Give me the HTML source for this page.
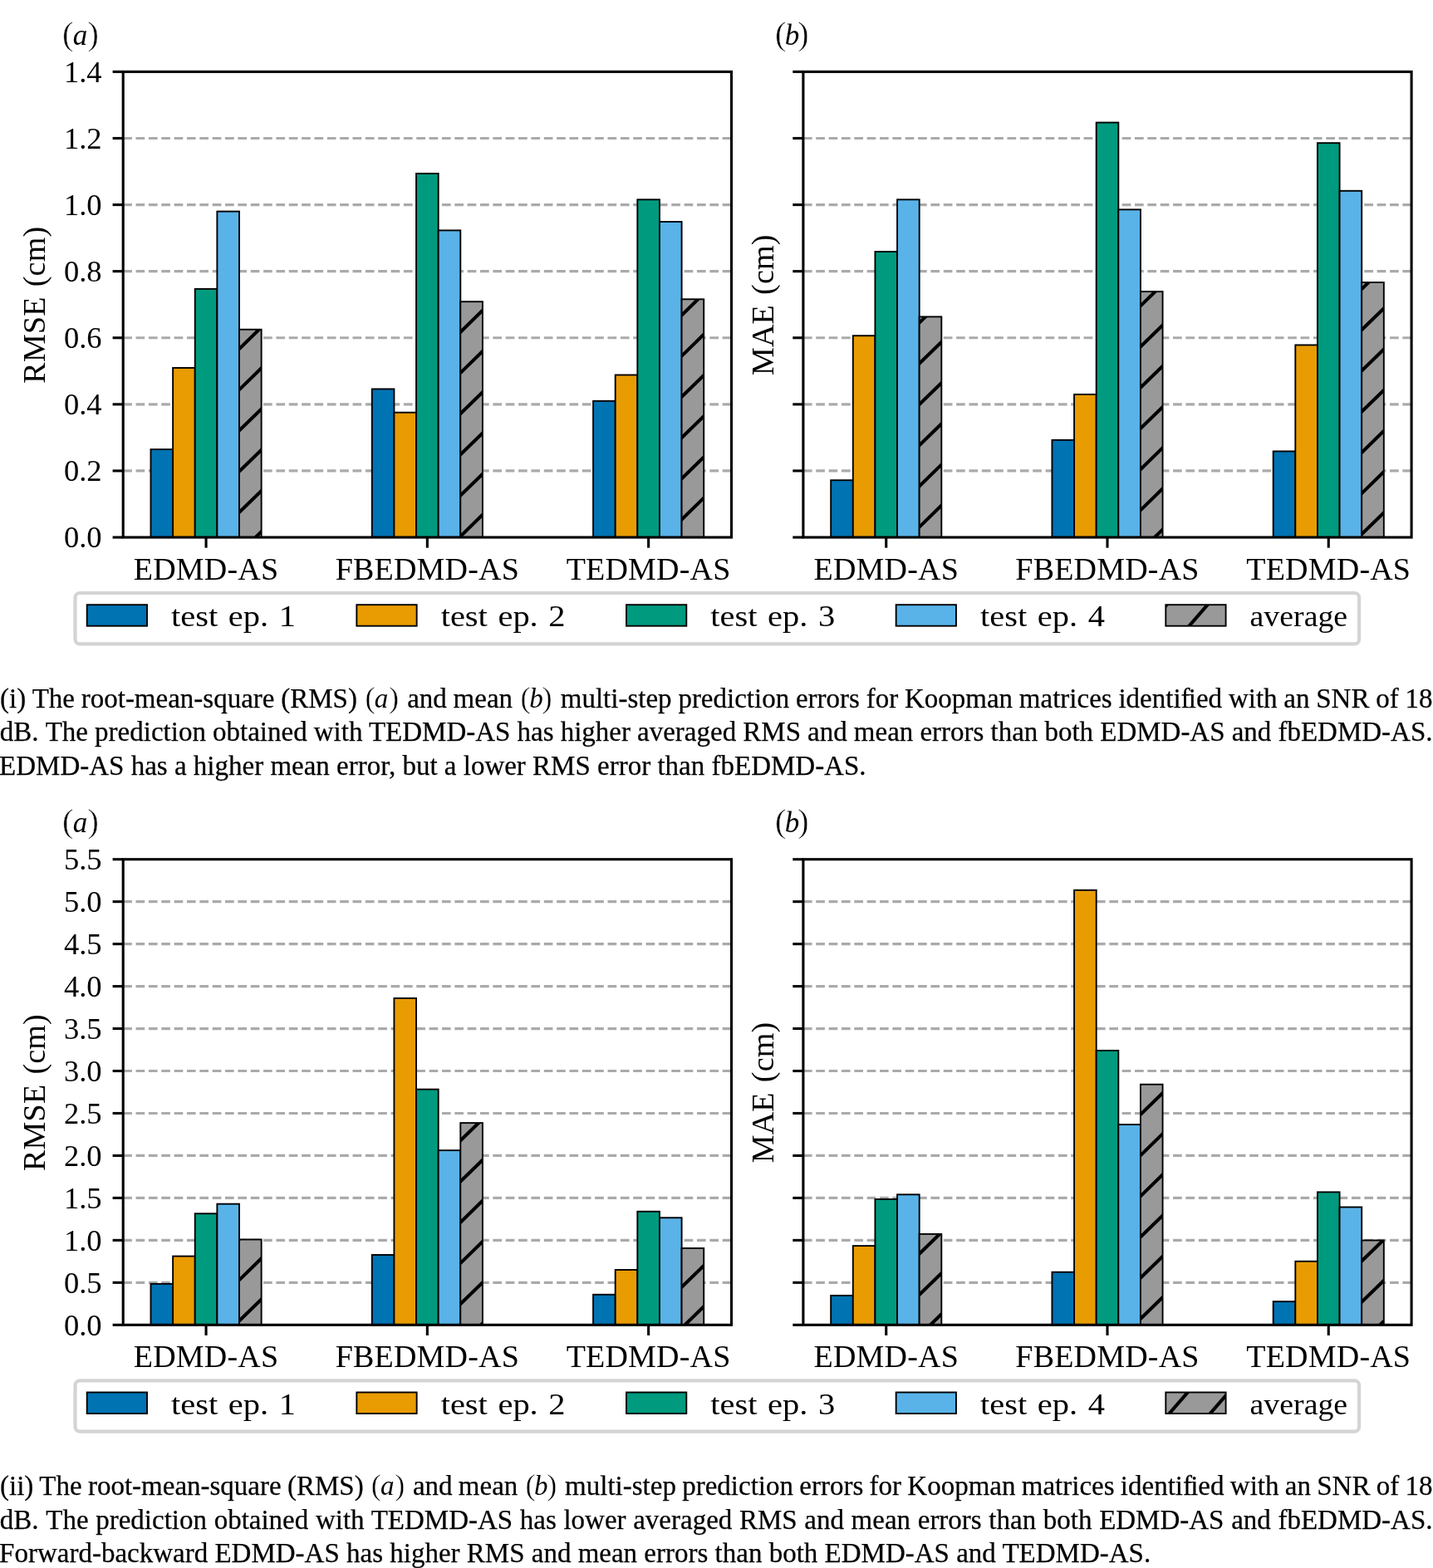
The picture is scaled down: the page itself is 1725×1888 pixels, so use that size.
<!DOCTYPE html>
<html lang="en">
<head>
<meta charset="utf-8">
<title>Multi-step prediction errors</title>
<style>
html, body { margin: 0; padding: 0; background: #ffffff; }
html, body { width: 1725px; height: 1888px; overflow: hidden; }
body { font-family: "Liberation Serif", "DejaVu Serif", serif; color: #000; }
#page { position: relative; width: 1725px; height: 1888px; overflow: hidden; background: #ffffff; }
svg { position: absolute; left: 0; top: 0; display: block; }
svg text { white-space: pre; }
p.cap { margin: 0; }
.ln { display: block; position: absolute; left: 0; height: 40px; line-height: 40px; -webkit-text-stroke: 0.25px #000; font-size: 33.0px; white-space: nowrap; margin: 0; }
.m { white-space: nowrap; word-spacing: 0; }
.lb { margin-right: 0.3px; }
.ss { margin-right: 0.6px; }
.fl { margin-right: -1.8px; }
.m .p { font-size: 36.3px; line-height: 0; -webkit-text-stroke: 0.45px #fff; }
.m i { font-size: 33px; line-height: 0; display: inline-block; -webkit-text-stroke: 0; }
</style>
</head>
<body>
<div id="page">
<svg width="1725" height="1888" viewBox="0 0 1725 1888" font-family='"Liberation Serif", "DejaVu Serif", serif' fill="#000">
<g>
<line x1="148.2" x2="880.5" y1="566.91" y2="566.91" stroke="#aaaaaa" stroke-width="3.2" stroke-dasharray="10.7 4.65"/>
<line x1="148.2" x2="880.5" y1="486.83" y2="486.83" stroke="#aaaaaa" stroke-width="3.2" stroke-dasharray="10.7 4.65"/>
<line x1="148.2" x2="880.5" y1="406.74" y2="406.74" stroke="#aaaaaa" stroke-width="3.2" stroke-dasharray="10.7 4.65"/>
<line x1="148.2" x2="880.5" y1="326.66" y2="326.66" stroke="#aaaaaa" stroke-width="3.2" stroke-dasharray="10.7 4.65"/>
<line x1="148.2" x2="880.5" y1="246.57" y2="246.57" stroke="#aaaaaa" stroke-width="3.2" stroke-dasharray="10.7 4.65"/>
<line x1="148.2" x2="880.5" y1="166.49" y2="166.49" stroke="#aaaaaa" stroke-width="3.2" stroke-dasharray="10.7 4.65"/>
<rect x="181.49" y="541.09" width="26.63" height="105.91" fill="#0073b3"/>
<rect x="181.49" y="541.09" width="26.63" height="105.91" fill="none" stroke="#000" stroke-width="1.9"/>
<rect x="208.12" y="442.94" width="26.63" height="204.06" fill="#e89c02"/>
<rect x="208.12" y="442.94" width="26.63" height="204.06" fill="none" stroke="#000" stroke-width="1.9"/>
<rect x="234.74" y="347.88" width="26.63" height="299.12" fill="#009a7f"/>
<rect x="234.74" y="347.88" width="26.63" height="299.12" fill="none" stroke="#000" stroke-width="1.9"/>
<rect x="261.37" y="254.58" width="26.63" height="392.42" fill="#59b3e8"/>
<rect x="261.37" y="254.58" width="26.63" height="392.42" fill="none" stroke="#000" stroke-width="1.9"/>
<rect x="288" y="396.73" width="26.63" height="250.27" fill="#999999"/>
<clipPath id="c288_397"><rect x="288" y="396.73" width="26.63" height="250.27"/></clipPath><path d="M280 427.86L322.63 386.3M280 477.06L322.63 435.5M280 526.26L322.63 484.7M280 575.46L322.63 533.9M280 624.66L322.63 583.1M280 673.86L322.63 632.3" stroke="#000" stroke-width="4.1" fill="none" clip-path="url(#c288_397)"/>
<rect x="288" y="396.73" width="26.63" height="250.27" fill="none" stroke="#000" stroke-width="1.9"/>
<rect x="447.78" y="468.41" width="26.63" height="178.59" fill="#0073b3"/>
<rect x="447.78" y="468.41" width="26.63" height="178.59" fill="none" stroke="#000" stroke-width="1.9"/>
<rect x="474.41" y="496.68" width="26.63" height="150.32" fill="#e89c02"/>
<rect x="474.41" y="496.68" width="26.63" height="150.32" fill="none" stroke="#000" stroke-width="1.9"/>
<rect x="501.04" y="208.93" width="26.63" height="438.07" fill="#009a7f"/>
<rect x="501.04" y="208.93" width="26.63" height="438.07" fill="none" stroke="#000" stroke-width="1.9"/>
<rect x="527.66" y="277.4" width="26.63" height="369.6" fill="#59b3e8"/>
<rect x="527.66" y="277.4" width="26.63" height="369.6" fill="none" stroke="#000" stroke-width="1.9"/>
<rect x="554.29" y="363.22" width="26.63" height="283.78" fill="#999999"/>
<clipPath id="c554_363"><rect x="554.29" y="363.22" width="26.63" height="283.78"/></clipPath><path d="M546.29 407.57L588.92 366.01M546.29 456.77L588.92 415.21M546.29 505.97L588.92 464.41M546.29 555.17L588.92 513.61M546.29 604.37L588.92 562.81M546.29 653.57L588.92 612.01" stroke="#000" stroke-width="4.1" fill="none" clip-path="url(#c554_363)"/>
<rect x="554.29" y="363.22" width="26.63" height="283.78" fill="none" stroke="#000" stroke-width="1.9"/>
<rect x="714.07" y="482.82" width="26.63" height="164.18" fill="#0073b3"/>
<rect x="714.07" y="482.82" width="26.63" height="164.18" fill="none" stroke="#000" stroke-width="1.9"/>
<rect x="740.7" y="451.47" width="26.63" height="195.53" fill="#e89c02"/>
<rect x="740.7" y="451.47" width="26.63" height="195.53" fill="none" stroke="#000" stroke-width="1.9"/>
<rect x="767.33" y="240.32" width="26.63" height="406.68" fill="#009a7f"/>
<rect x="767.33" y="240.32" width="26.63" height="406.68" fill="none" stroke="#000" stroke-width="1.9"/>
<rect x="793.96" y="266.99" width="26.63" height="380.01" fill="#59b3e8"/>
<rect x="793.96" y="266.99" width="26.63" height="380.01" fill="none" stroke="#000" stroke-width="1.9"/>
<rect x="820.58" y="360.29" width="26.63" height="286.71" fill="#999999"/>
<clipPath id="c821_360"><rect x="820.58" y="360.29" width="26.63" height="286.71"/></clipPath><path d="M812.58 387.28L855.21 345.72M812.58 436.48L855.21 394.92M812.58 485.68L855.21 444.12M812.58 534.88L855.21 493.32M812.58 584.08L855.21 542.52M812.58 633.28L855.21 591.72M812.58 682.48L855.21 640.92" stroke="#000" stroke-width="4.1" fill="none" clip-path="url(#c821_360)"/>
<rect x="820.58" y="360.29" width="26.63" height="286.71" fill="none" stroke="#000" stroke-width="1.9"/>
<line x1="135.6" x2="148.2" y1="647" y2="647" stroke="#000" stroke-width="3.1"/>
<text x="122.6" y="659.4" text-anchor="end" font-size="36.5">0.0</text>
<line x1="135.6" x2="148.2" y1="566.91" y2="566.91" stroke="#000" stroke-width="3.1"/>
<text x="122.6" y="579.31" text-anchor="end" font-size="36.5">0.2</text>
<line x1="135.6" x2="148.2" y1="486.83" y2="486.83" stroke="#000" stroke-width="3.1"/>
<text x="122.6" y="499.23" text-anchor="end" font-size="36.5">0.4</text>
<line x1="135.6" x2="148.2" y1="406.74" y2="406.74" stroke="#000" stroke-width="3.1"/>
<text x="122.6" y="419.14" text-anchor="end" font-size="36.5">0.6</text>
<line x1="135.6" x2="148.2" y1="326.66" y2="326.66" stroke="#000" stroke-width="3.1"/>
<text x="122.6" y="339.06" text-anchor="end" font-size="36.5">0.8</text>
<line x1="135.6" x2="148.2" y1="246.57" y2="246.57" stroke="#000" stroke-width="3.1"/>
<text x="122.6" y="258.97" text-anchor="end" font-size="36.5">1.0</text>
<line x1="135.6" x2="148.2" y1="166.49" y2="166.49" stroke="#000" stroke-width="3.1"/>
<text x="122.6" y="178.89" text-anchor="end" font-size="36.5">1.2</text>
<line x1="135.6" x2="148.2" y1="86.4" y2="86.4" stroke="#000" stroke-width="3.1"/>
<text x="122.6" y="98.8" text-anchor="end" font-size="36.5">1.4</text>
<line x1="248.06" x2="248.06" y1="647" y2="659.6" stroke="#000" stroke-width="3.1"/>
<text x="248.06" y="697.8" text-anchor="middle" font-size="38.0" letter-spacing="0.2">EDMD-AS</text>
<line x1="514.35" x2="514.35" y1="647" y2="659.6" stroke="#000" stroke-width="3.1"/>
<text x="514.35" y="697.8" text-anchor="middle" font-size="38.0" letter-spacing="0.2">FBEDMD-AS</text>
<line x1="780.64" x2="780.64" y1="647" y2="659.6" stroke="#000" stroke-width="3.1"/>
<text x="780.64" y="697.8" text-anchor="middle" font-size="38.0" letter-spacing="0.2">TEDMD-AS</text>
<rect x="148.2" y="86.4" width="732.3" height="560.6" fill="none" stroke="#000" stroke-width="3.1" stroke-linejoin="miter"/>
<text transform="translate(53.8 367.2) rotate(-90)" text-anchor="middle" font-size="38.0" letter-spacing="0.2" word-spacing="2.4">RMSE (cm)</text>
<text x="75" y="53.6" font-size="40.1" stroke="#fff" stroke-width="0.5">(<tspan font-style="italic" font-size="35.0" stroke="none" dx="-0.5">a</tspan><tspan dx="0.2">)</tspan></text>
<line x1="966.9" x2="1699.1" y1="566.91" y2="566.91" stroke="#aaaaaa" stroke-width="3.2" stroke-dasharray="10.7 4.65"/>
<line x1="966.9" x2="1699.1" y1="486.83" y2="486.83" stroke="#aaaaaa" stroke-width="3.2" stroke-dasharray="10.7 4.65"/>
<line x1="966.9" x2="1699.1" y1="406.74" y2="406.74" stroke="#aaaaaa" stroke-width="3.2" stroke-dasharray="10.7 4.65"/>
<line x1="966.9" x2="1699.1" y1="326.66" y2="326.66" stroke="#aaaaaa" stroke-width="3.2" stroke-dasharray="10.7 4.65"/>
<line x1="966.9" x2="1699.1" y1="246.57" y2="246.57" stroke="#aaaaaa" stroke-width="3.2" stroke-dasharray="10.7 4.65"/>
<line x1="966.9" x2="1699.1" y1="166.49" y2="166.49" stroke="#aaaaaa" stroke-width="3.2" stroke-dasharray="10.7 4.65"/>
<rect x="1000.18" y="578.21" width="26.63" height="68.79" fill="#0073b3"/>
<rect x="1000.18" y="578.21" width="26.63" height="68.79" fill="none" stroke="#000" stroke-width="1.9"/>
<rect x="1026.81" y="404.22" width="26.63" height="242.78" fill="#e89c02"/>
<rect x="1026.81" y="404.22" width="26.63" height="242.78" fill="none" stroke="#000" stroke-width="1.9"/>
<rect x="1053.43" y="303.03" width="26.63" height="343.97" fill="#009a7f"/>
<rect x="1053.43" y="303.03" width="26.63" height="343.97" fill="none" stroke="#000" stroke-width="1.9"/>
<rect x="1080.06" y="240.32" width="26.63" height="406.68" fill="#59b3e8"/>
<rect x="1080.06" y="240.32" width="26.63" height="406.68" fill="none" stroke="#000" stroke-width="1.9"/>
<rect x="1106.68" y="381.4" width="26.63" height="265.6" fill="#999999"/>
<clipPath id="c1107_381"><rect x="1106.68" y="381.4" width="26.63" height="265.6"/></clipPath><path d="M1098.68 396.38L1141.31 354.82M1098.68 445.58L1141.31 404.02M1098.68 494.78L1141.31 453.22M1098.68 543.98L1141.31 502.42M1098.68 593.18L1141.31 551.62M1098.68 642.38L1141.31 600.82" stroke="#000" stroke-width="4.1" fill="none" clip-path="url(#c1107_381)"/>
<rect x="1106.68" y="381.4" width="26.63" height="265.6" fill="none" stroke="#000" stroke-width="1.9"/>
<rect x="1266.44" y="529.79" width="26.63" height="117.21" fill="#0073b3"/>
<rect x="1266.44" y="529.79" width="26.63" height="117.21" fill="none" stroke="#000" stroke-width="1.9"/>
<rect x="1293.06" y="474.9" width="26.63" height="172.1" fill="#e89c02"/>
<rect x="1293.06" y="474.9" width="26.63" height="172.1" fill="none" stroke="#000" stroke-width="1.9"/>
<rect x="1319.69" y="147.55" width="26.63" height="499.45" fill="#009a7f"/>
<rect x="1319.69" y="147.55" width="26.63" height="499.45" fill="none" stroke="#000" stroke-width="1.9"/>
<rect x="1346.31" y="252.34" width="26.63" height="394.66" fill="#59b3e8"/>
<rect x="1346.31" y="252.34" width="26.63" height="394.66" fill="none" stroke="#000" stroke-width="1.9"/>
<rect x="1372.94" y="351.08" width="26.63" height="295.92" fill="#999999"/>
<clipPath id="c1373_351"><rect x="1372.94" y="351.08" width="26.63" height="295.92"/></clipPath><path d="M1364.94 376.13L1407.56 334.57M1364.94 425.33L1407.56 383.77M1364.94 474.53L1407.56 432.97M1364.94 523.73L1407.56 482.17M1364.94 572.93L1407.56 531.37M1364.94 622.13L1407.56 580.57M1364.94 671.33L1407.56 629.77" stroke="#000" stroke-width="4.1" fill="none" clip-path="url(#c1373_351)"/>
<rect x="1372.94" y="351.08" width="26.63" height="295.92" fill="none" stroke="#000" stroke-width="1.9"/>
<rect x="1532.69" y="543.41" width="26.63" height="103.59" fill="#0073b3"/>
<rect x="1532.69" y="543.41" width="26.63" height="103.59" fill="none" stroke="#000" stroke-width="1.9"/>
<rect x="1559.32" y="415.43" width="26.63" height="231.57" fill="#e89c02"/>
<rect x="1559.32" y="415.43" width="26.63" height="231.57" fill="none" stroke="#000" stroke-width="1.9"/>
<rect x="1585.94" y="172.17" width="26.63" height="474.83" fill="#009a7f"/>
<rect x="1585.94" y="172.17" width="26.63" height="474.83" fill="none" stroke="#000" stroke-width="1.9"/>
<rect x="1612.57" y="229.79" width="26.63" height="417.21" fill="#59b3e8"/>
<rect x="1612.57" y="229.79" width="26.63" height="417.21" fill="none" stroke="#000" stroke-width="1.9"/>
<rect x="1639.19" y="340.03" width="26.63" height="306.97" fill="#999999"/>
<clipPath id="c1639_340"><rect x="1639.19" y="340.03" width="26.63" height="306.97"/></clipPath><path d="M1631.19 355.87L1673.82 314.31M1631.19 405.07L1673.82 363.51M1631.19 454.27L1673.82 412.71M1631.19 503.47L1673.82 461.91M1631.19 552.67L1673.82 511.11M1631.19 601.87L1673.82 560.31M1631.19 651.07L1673.82 609.51" stroke="#000" stroke-width="4.1" fill="none" clip-path="url(#c1639_340)"/>
<rect x="1639.19" y="340.03" width="26.63" height="306.97" fill="none" stroke="#000" stroke-width="1.9"/>
<line x1="954.3" x2="966.9" y1="647" y2="647" stroke="#000" stroke-width="3.1"/>
<line x1="954.3" x2="966.9" y1="566.91" y2="566.91" stroke="#000" stroke-width="3.1"/>
<line x1="954.3" x2="966.9" y1="486.83" y2="486.83" stroke="#000" stroke-width="3.1"/>
<line x1="954.3" x2="966.9" y1="406.74" y2="406.74" stroke="#000" stroke-width="3.1"/>
<line x1="954.3" x2="966.9" y1="326.66" y2="326.66" stroke="#000" stroke-width="3.1"/>
<line x1="954.3" x2="966.9" y1="246.57" y2="246.57" stroke="#000" stroke-width="3.1"/>
<line x1="954.3" x2="966.9" y1="166.49" y2="166.49" stroke="#000" stroke-width="3.1"/>
<line x1="954.3" x2="966.9" y1="86.4" y2="86.4" stroke="#000" stroke-width="3.1"/>
<line x1="1066.75" x2="1066.75" y1="647" y2="659.6" stroke="#000" stroke-width="3.1"/>
<text x="1066.75" y="697.8" text-anchor="middle" font-size="38.0" letter-spacing="0.2">EDMD-AS</text>
<line x1="1333" x2="1333" y1="647" y2="659.6" stroke="#000" stroke-width="3.1"/>
<text x="1333" y="697.8" text-anchor="middle" font-size="38.0" letter-spacing="0.2">FBEDMD-AS</text>
<line x1="1599.25" x2="1599.25" y1="647" y2="659.6" stroke="#000" stroke-width="3.1"/>
<text x="1599.25" y="697.8" text-anchor="middle" font-size="38.0" letter-spacing="0.2">TEDMD-AS</text>
<rect x="966.9" y="86.4" width="732.2" height="560.6" fill="none" stroke="#000" stroke-width="3.1" stroke-linejoin="miter"/>
<text transform="translate(931.1 367.2) rotate(-90)" text-anchor="middle" font-size="38.0" letter-spacing="0.2" word-spacing="2.4">MAE (cm)</text>
<text x="933" y="53.6" font-size="40.1" stroke="#fff" stroke-width="0.5">(<tspan font-style="italic" font-size="35.0" stroke="none" dx="-1.5">b</tspan><tspan dx="-2.0">)</tspan></text>
<rect x="90.5" y="714" width="1545.6" height="61.3" rx="5.6" ry="5.6" fill="#fff" stroke="#d4d4d4" stroke-width="4.2"/>
<rect x="104.7" y="728.2" width="72.3" height="25.5" fill="#0073b3"/>
<rect x="104.7" y="728.2" width="72.3" height="25.5" fill="none" stroke="#000" stroke-width="1.9"/>
<text transform="translate(206 754.3) scale(1.14 1)" font-size="35.5" word-spacing="2.2">test ep. 1</text>
<rect x="429.35" y="728.2" width="72.3" height="25.5" fill="#e89c02"/>
<rect x="429.35" y="728.2" width="72.3" height="25.5" fill="none" stroke="#000" stroke-width="1.9"/>
<text transform="translate(530.65 754.3) scale(1.14 1)" font-size="35.5" word-spacing="2.2">test ep. 2</text>
<rect x="754" y="728.2" width="72.3" height="25.5" fill="#009a7f"/>
<rect x="754" y="728.2" width="72.3" height="25.5" fill="none" stroke="#000" stroke-width="1.9"/>
<text transform="translate(855.3 754.3) scale(1.14 1)" font-size="35.5" word-spacing="2.2">test ep. 3</text>
<rect x="1078.65" y="728.2" width="72.3" height="25.5" fill="#59b3e8"/>
<rect x="1078.65" y="728.2" width="72.3" height="25.5" fill="none" stroke="#000" stroke-width="1.9"/>
<text transform="translate(1179.95 754.3) scale(1.14 1)" font-size="35.5" word-spacing="2.2">test ep. 4</text>
<rect x="1403.3" y="728.2" width="72.3" height="25.5" fill="#999999"/>
<clipPath id="c1403_728"><rect x="1403.3" y="728.2" width="72.3" height="25.5"/></clipPath><path d="M1395.3 738.71L1483.6 637.16M1395.3 795.29L1483.6 693.74M1395.3 851.87L1483.6 750.32" stroke="#000" stroke-width="4.1" fill="none" clip-path="url(#c1403_728)"/>
<rect x="1403.3" y="728.2" width="72.3" height="25.5" fill="none" stroke="#000" stroke-width="1.9"/>
<text transform="translate(1504.6 754.3) scale(1.065 1)" font-size="35.5" word-spacing="0">average</text>
</g>
<g>
<line x1="148.2" x2="880.5" y1="1544.34" y2="1544.34" stroke="#aaaaaa" stroke-width="3.2" stroke-dasharray="10.7 4.65"/>
<line x1="148.2" x2="880.5" y1="1493.37" y2="1493.37" stroke="#aaaaaa" stroke-width="3.2" stroke-dasharray="10.7 4.65"/>
<line x1="148.2" x2="880.5" y1="1442.41" y2="1442.41" stroke="#aaaaaa" stroke-width="3.2" stroke-dasharray="10.7 4.65"/>
<line x1="148.2" x2="880.5" y1="1391.45" y2="1391.45" stroke="#aaaaaa" stroke-width="3.2" stroke-dasharray="10.7 4.65"/>
<line x1="148.2" x2="880.5" y1="1340.48" y2="1340.48" stroke="#aaaaaa" stroke-width="3.2" stroke-dasharray="10.7 4.65"/>
<line x1="148.2" x2="880.5" y1="1289.52" y2="1289.52" stroke="#aaaaaa" stroke-width="3.2" stroke-dasharray="10.7 4.65"/>
<line x1="148.2" x2="880.5" y1="1238.55" y2="1238.55" stroke="#aaaaaa" stroke-width="3.2" stroke-dasharray="10.7 4.65"/>
<line x1="148.2" x2="880.5" y1="1187.59" y2="1187.59" stroke="#aaaaaa" stroke-width="3.2" stroke-dasharray="10.7 4.65"/>
<line x1="148.2" x2="880.5" y1="1136.63" y2="1136.63" stroke="#aaaaaa" stroke-width="3.2" stroke-dasharray="10.7 4.65"/>
<line x1="148.2" x2="880.5" y1="1085.66" y2="1085.66" stroke="#aaaaaa" stroke-width="3.2" stroke-dasharray="10.7 4.65"/>
<rect x="181.49" y="1545.87" width="26.63" height="49.43" fill="#0073b3"/>
<rect x="181.49" y="1545.87" width="26.63" height="49.43" fill="none" stroke="#000" stroke-width="1.9"/>
<rect x="208.12" y="1512.57" width="26.63" height="82.73" fill="#e89c02"/>
<rect x="208.12" y="1512.57" width="26.63" height="82.73" fill="none" stroke="#000" stroke-width="1.9"/>
<rect x="234.74" y="1461.27" width="26.63" height="134.03" fill="#009a7f"/>
<rect x="234.74" y="1461.27" width="26.63" height="134.03" fill="none" stroke="#000" stroke-width="1.9"/>
<rect x="261.37" y="1449.65" width="26.63" height="145.65" fill="#59b3e8"/>
<rect x="261.37" y="1449.65" width="26.63" height="145.65" fill="none" stroke="#000" stroke-width="1.9"/>
<rect x="288" y="1492.46" width="26.63" height="102.84" fill="#999999"/>
<clipPath id="c288_1492"><rect x="288" y="1492.46" width="26.63" height="102.84"/></clipPath><path d="M280 1499.86L322.63 1458.3M280 1549.06L322.63 1507.5M280 1598.26L322.63 1556.7" stroke="#000" stroke-width="4.1" fill="none" clip-path="url(#c288_1492)"/>
<rect x="288" y="1492.46" width="26.63" height="102.84" fill="none" stroke="#000" stroke-width="1.9"/>
<rect x="447.78" y="1510.98" width="26.63" height="84.32" fill="#0073b3"/>
<rect x="447.78" y="1510.98" width="26.63" height="84.32" fill="none" stroke="#000" stroke-width="1.9"/>
<rect x="474.41" y="1201.96" width="26.63" height="393.34" fill="#e89c02"/>
<rect x="474.41" y="1201.96" width="26.63" height="393.34" fill="none" stroke="#000" stroke-width="1.9"/>
<rect x="501.04" y="1311.64" width="26.63" height="283.66" fill="#009a7f"/>
<rect x="501.04" y="1311.64" width="26.63" height="283.66" fill="none" stroke="#000" stroke-width="1.9"/>
<rect x="527.66" y="1385.13" width="26.63" height="210.17" fill="#59b3e8"/>
<rect x="527.66" y="1385.13" width="26.63" height="210.17" fill="none" stroke="#000" stroke-width="1.9"/>
<rect x="554.29" y="1352.1" width="26.63" height="243.2" fill="#999999"/>
<clipPath id="c554_1352"><rect x="554.29" y="1352.1" width="26.63" height="243.2"/></clipPath><path d="M546.29 1381.17L588.92 1339.61M546.29 1430.37L588.92 1388.81M546.29 1479.57L588.92 1438.01M546.29 1528.77L588.92 1487.21M546.29 1577.97L588.92 1536.41M546.29 1627.17L588.92 1585.61" stroke="#000" stroke-width="4.1" fill="none" clip-path="url(#c554_1352)"/>
<rect x="554.29" y="1352.1" width="26.63" height="243.2" fill="none" stroke="#000" stroke-width="1.9"/>
<rect x="714.07" y="1558.79" width="26.63" height="36.51" fill="#0073b3"/>
<rect x="714.07" y="1558.79" width="26.63" height="36.51" fill="none" stroke="#000" stroke-width="1.9"/>
<rect x="740.7" y="1528.99" width="26.63" height="66.31" fill="#e89c02"/>
<rect x="740.7" y="1528.99" width="26.63" height="66.31" fill="none" stroke="#000" stroke-width="1.9"/>
<rect x="767.33" y="1458.76" width="26.63" height="136.54" fill="#009a7f"/>
<rect x="767.33" y="1458.76" width="26.63" height="136.54" fill="none" stroke="#000" stroke-width="1.9"/>
<rect x="793.96" y="1466.26" width="26.63" height="129.04" fill="#59b3e8"/>
<rect x="793.96" y="1466.26" width="26.63" height="129.04" fill="none" stroke="#000" stroke-width="1.9"/>
<rect x="820.58" y="1502.97" width="26.63" height="92.33" fill="#999999"/>
<clipPath id="c821_1503"><rect x="820.58" y="1502.97" width="26.63" height="92.33"/></clipPath><path d="M812.58 1508.48L855.21 1466.92M812.58 1557.68L855.21 1516.12M812.58 1606.88L855.21 1565.32" stroke="#000" stroke-width="4.1" fill="none" clip-path="url(#c821_1503)"/>
<rect x="820.58" y="1502.97" width="26.63" height="92.33" fill="none" stroke="#000" stroke-width="1.9"/>
<line x1="135.6" x2="148.2" y1="1595.3" y2="1595.3" stroke="#000" stroke-width="3.1"/>
<text x="122.6" y="1607.7" text-anchor="end" font-size="36.5">0.0</text>
<line x1="135.6" x2="148.2" y1="1544.34" y2="1544.34" stroke="#000" stroke-width="3.1"/>
<text x="122.6" y="1556.74" text-anchor="end" font-size="36.5">0.5</text>
<line x1="135.6" x2="148.2" y1="1493.37" y2="1493.37" stroke="#000" stroke-width="3.1"/>
<text x="122.6" y="1505.77" text-anchor="end" font-size="36.5">1.0</text>
<line x1="135.6" x2="148.2" y1="1442.41" y2="1442.41" stroke="#000" stroke-width="3.1"/>
<text x="122.6" y="1454.81" text-anchor="end" font-size="36.5">1.5</text>
<line x1="135.6" x2="148.2" y1="1391.45" y2="1391.45" stroke="#000" stroke-width="3.1"/>
<text x="122.6" y="1403.85" text-anchor="end" font-size="36.5">2.0</text>
<line x1="135.6" x2="148.2" y1="1340.48" y2="1340.48" stroke="#000" stroke-width="3.1"/>
<text x="122.6" y="1352.88" text-anchor="end" font-size="36.5">2.5</text>
<line x1="135.6" x2="148.2" y1="1289.52" y2="1289.52" stroke="#000" stroke-width="3.1"/>
<text x="122.6" y="1301.92" text-anchor="end" font-size="36.5">3.0</text>
<line x1="135.6" x2="148.2" y1="1238.55" y2="1238.55" stroke="#000" stroke-width="3.1"/>
<text x="122.6" y="1250.95" text-anchor="end" font-size="36.5">3.5</text>
<line x1="135.6" x2="148.2" y1="1187.59" y2="1187.59" stroke="#000" stroke-width="3.1"/>
<text x="122.6" y="1199.99" text-anchor="end" font-size="36.5">4.0</text>
<line x1="135.6" x2="148.2" y1="1136.63" y2="1136.63" stroke="#000" stroke-width="3.1"/>
<text x="122.6" y="1149.03" text-anchor="end" font-size="36.5">4.5</text>
<line x1="135.6" x2="148.2" y1="1085.66" y2="1085.66" stroke="#000" stroke-width="3.1"/>
<text x="122.6" y="1098.06" text-anchor="end" font-size="36.5">5.0</text>
<line x1="135.6" x2="148.2" y1="1034.7" y2="1034.7" stroke="#000" stroke-width="3.1"/>
<text x="122.6" y="1047.1" text-anchor="end" font-size="36.5">5.5</text>
<line x1="248.06" x2="248.06" y1="1595.3" y2="1607.9" stroke="#000" stroke-width="3.1"/>
<text x="248.06" y="1646.1" text-anchor="middle" font-size="38.0" letter-spacing="0.2">EDMD-AS</text>
<line x1="514.35" x2="514.35" y1="1595.3" y2="1607.9" stroke="#000" stroke-width="3.1"/>
<text x="514.35" y="1646.1" text-anchor="middle" font-size="38.0" letter-spacing="0.2">FBEDMD-AS</text>
<line x1="780.64" x2="780.64" y1="1595.3" y2="1607.9" stroke="#000" stroke-width="3.1"/>
<text x="780.64" y="1646.1" text-anchor="middle" font-size="38.0" letter-spacing="0.2">TEDMD-AS</text>
<rect x="148.2" y="1034.7" width="732.3" height="560.6" fill="none" stroke="#000" stroke-width="3.1" stroke-linejoin="miter"/>
<text transform="translate(53.8 1315.5) rotate(-90)" text-anchor="middle" font-size="38.0" letter-spacing="0.2" word-spacing="2.4">RMSE (cm)</text>
<text x="75" y="1001.9" font-size="40.1" stroke="#fff" stroke-width="0.5">(<tspan font-style="italic" font-size="35.0" stroke="none" dx="-0.5">a</tspan><tspan dx="0.2">)</tspan></text>
<line x1="966.9" x2="1699.1" y1="1544.34" y2="1544.34" stroke="#aaaaaa" stroke-width="3.2" stroke-dasharray="10.7 4.65"/>
<line x1="966.9" x2="1699.1" y1="1493.37" y2="1493.37" stroke="#aaaaaa" stroke-width="3.2" stroke-dasharray="10.7 4.65"/>
<line x1="966.9" x2="1699.1" y1="1442.41" y2="1442.41" stroke="#aaaaaa" stroke-width="3.2" stroke-dasharray="10.7 4.65"/>
<line x1="966.9" x2="1699.1" y1="1391.45" y2="1391.45" stroke="#aaaaaa" stroke-width="3.2" stroke-dasharray="10.7 4.65"/>
<line x1="966.9" x2="1699.1" y1="1340.48" y2="1340.48" stroke="#aaaaaa" stroke-width="3.2" stroke-dasharray="10.7 4.65"/>
<line x1="966.9" x2="1699.1" y1="1289.52" y2="1289.52" stroke="#aaaaaa" stroke-width="3.2" stroke-dasharray="10.7 4.65"/>
<line x1="966.9" x2="1699.1" y1="1238.55" y2="1238.55" stroke="#aaaaaa" stroke-width="3.2" stroke-dasharray="10.7 4.65"/>
<line x1="966.9" x2="1699.1" y1="1187.59" y2="1187.59" stroke="#aaaaaa" stroke-width="3.2" stroke-dasharray="10.7 4.65"/>
<line x1="966.9" x2="1699.1" y1="1136.63" y2="1136.63" stroke="#aaaaaa" stroke-width="3.2" stroke-dasharray="10.7 4.65"/>
<line x1="966.9" x2="1699.1" y1="1085.66" y2="1085.66" stroke="#aaaaaa" stroke-width="3.2" stroke-dasharray="10.7 4.65"/>
<rect x="1000.18" y="1559.93" width="26.63" height="35.37" fill="#0073b3"/>
<rect x="1000.18" y="1559.93" width="26.63" height="35.37" fill="none" stroke="#000" stroke-width="1.9"/>
<rect x="1026.81" y="1500.1" width="26.63" height="95.2" fill="#e89c02"/>
<rect x="1026.81" y="1500.1" width="26.63" height="95.2" fill="none" stroke="#000" stroke-width="1.9"/>
<rect x="1053.43" y="1443.94" width="26.63" height="151.36" fill="#009a7f"/>
<rect x="1053.43" y="1443.94" width="26.63" height="151.36" fill="none" stroke="#000" stroke-width="1.9"/>
<rect x="1080.06" y="1438.33" width="26.63" height="156.97" fill="#59b3e8"/>
<rect x="1080.06" y="1438.33" width="26.63" height="156.97" fill="none" stroke="#000" stroke-width="1.9"/>
<rect x="1106.68" y="1485.87" width="26.63" height="109.43" fill="#999999"/>
<clipPath id="c1107_1486"><rect x="1106.68" y="1485.87" width="26.63" height="109.43"/></clipPath><path d="M1098.68 1517.58L1141.31 1476.02M1098.68 1566.78L1141.31 1525.22M1098.68 1615.98L1141.31 1574.42" stroke="#000" stroke-width="4.1" fill="none" clip-path="url(#c1107_1486)"/>
<rect x="1106.68" y="1485.87" width="26.63" height="109.43" fill="none" stroke="#000" stroke-width="1.9"/>
<rect x="1266.44" y="1531.7" width="26.63" height="63.6" fill="#0073b3"/>
<rect x="1266.44" y="1531.7" width="26.63" height="63.6" fill="none" stroke="#000" stroke-width="1.9"/>
<rect x="1293.06" y="1071.8" width="26.63" height="523.5" fill="#e89c02"/>
<rect x="1293.06" y="1071.8" width="26.63" height="523.5" fill="none" stroke="#000" stroke-width="1.9"/>
<rect x="1319.69" y="1264.95" width="26.63" height="330.35" fill="#009a7f"/>
<rect x="1319.69" y="1264.95" width="26.63" height="330.35" fill="none" stroke="#000" stroke-width="1.9"/>
<rect x="1346.31" y="1354.04" width="26.63" height="241.26" fill="#59b3e8"/>
<rect x="1346.31" y="1354.04" width="26.63" height="241.26" fill="none" stroke="#000" stroke-width="1.9"/>
<rect x="1372.94" y="1305.72" width="26.63" height="289.58" fill="#999999"/>
<clipPath id="c1373_1306"><rect x="1372.94" y="1305.72" width="26.63" height="289.58"/></clipPath><path d="M1364.94 1349.73L1407.56 1308.17M1364.94 1398.93L1407.56 1357.37M1364.94 1448.13L1407.56 1406.57M1364.94 1497.33L1407.56 1455.77M1364.94 1546.53L1407.56 1504.97M1364.94 1595.73L1407.56 1554.17" stroke="#000" stroke-width="4.1" fill="none" clip-path="url(#c1373_1306)"/>
<rect x="1372.94" y="1305.72" width="26.63" height="289.58" fill="none" stroke="#000" stroke-width="1.9"/>
<rect x="1532.69" y="1567.15" width="26.63" height="28.15" fill="#0073b3"/>
<rect x="1532.69" y="1567.15" width="26.63" height="28.15" fill="none" stroke="#000" stroke-width="1.9"/>
<rect x="1559.32" y="1518.75" width="26.63" height="76.55" fill="#e89c02"/>
<rect x="1559.32" y="1518.75" width="26.63" height="76.55" fill="none" stroke="#000" stroke-width="1.9"/>
<rect x="1585.94" y="1435.38" width="26.63" height="159.92" fill="#009a7f"/>
<rect x="1585.94" y="1435.38" width="26.63" height="159.92" fill="none" stroke="#000" stroke-width="1.9"/>
<rect x="1612.57" y="1453.47" width="26.63" height="141.83" fill="#59b3e8"/>
<rect x="1612.57" y="1453.47" width="26.63" height="141.83" fill="none" stroke="#000" stroke-width="1.9"/>
<rect x="1639.19" y="1493.47" width="26.63" height="101.83" fill="#999999"/>
<clipPath id="c1639_1493"><rect x="1639.19" y="1493.47" width="26.63" height="101.83"/></clipPath><path d="M1631.19 1526.27L1673.82 1484.71M1631.19 1575.47L1673.82 1533.91M1631.19 1624.67L1673.82 1583.11" stroke="#000" stroke-width="4.1" fill="none" clip-path="url(#c1639_1493)"/>
<rect x="1639.19" y="1493.47" width="26.63" height="101.83" fill="none" stroke="#000" stroke-width="1.9"/>
<line x1="954.3" x2="966.9" y1="1595.3" y2="1595.3" stroke="#000" stroke-width="3.1"/>
<line x1="954.3" x2="966.9" y1="1544.34" y2="1544.34" stroke="#000" stroke-width="3.1"/>
<line x1="954.3" x2="966.9" y1="1493.37" y2="1493.37" stroke="#000" stroke-width="3.1"/>
<line x1="954.3" x2="966.9" y1="1442.41" y2="1442.41" stroke="#000" stroke-width="3.1"/>
<line x1="954.3" x2="966.9" y1="1391.45" y2="1391.45" stroke="#000" stroke-width="3.1"/>
<line x1="954.3" x2="966.9" y1="1340.48" y2="1340.48" stroke="#000" stroke-width="3.1"/>
<line x1="954.3" x2="966.9" y1="1289.52" y2="1289.52" stroke="#000" stroke-width="3.1"/>
<line x1="954.3" x2="966.9" y1="1238.55" y2="1238.55" stroke="#000" stroke-width="3.1"/>
<line x1="954.3" x2="966.9" y1="1187.59" y2="1187.59" stroke="#000" stroke-width="3.1"/>
<line x1="954.3" x2="966.9" y1="1136.63" y2="1136.63" stroke="#000" stroke-width="3.1"/>
<line x1="954.3" x2="966.9" y1="1085.66" y2="1085.66" stroke="#000" stroke-width="3.1"/>
<line x1="954.3" x2="966.9" y1="1034.7" y2="1034.7" stroke="#000" stroke-width="3.1"/>
<line x1="1066.75" x2="1066.75" y1="1595.3" y2="1607.9" stroke="#000" stroke-width="3.1"/>
<text x="1066.75" y="1646.1" text-anchor="middle" font-size="38.0" letter-spacing="0.2">EDMD-AS</text>
<line x1="1333" x2="1333" y1="1595.3" y2="1607.9" stroke="#000" stroke-width="3.1"/>
<text x="1333" y="1646.1" text-anchor="middle" font-size="38.0" letter-spacing="0.2">FBEDMD-AS</text>
<line x1="1599.25" x2="1599.25" y1="1595.3" y2="1607.9" stroke="#000" stroke-width="3.1"/>
<text x="1599.25" y="1646.1" text-anchor="middle" font-size="38.0" letter-spacing="0.2">TEDMD-AS</text>
<rect x="966.9" y="1034.7" width="732.2" height="560.6" fill="none" stroke="#000" stroke-width="3.1" stroke-linejoin="miter"/>
<text transform="translate(931.1 1315.5) rotate(-90)" text-anchor="middle" font-size="38.0" letter-spacing="0.2" word-spacing="2.4">MAE (cm)</text>
<text x="933" y="1001.9" font-size="40.1" stroke="#fff" stroke-width="0.5">(<tspan font-style="italic" font-size="35.0" stroke="none" dx="-1.5">b</tspan><tspan dx="-2.0">)</tspan></text>
<rect x="90.5" y="1662.3" width="1545.6" height="61.3" rx="5.6" ry="5.6" fill="#fff" stroke="#d4d4d4" stroke-width="4.2"/>
<rect x="104.7" y="1676.5" width="72.3" height="25.5" fill="#0073b3"/>
<rect x="104.7" y="1676.5" width="72.3" height="25.5" fill="none" stroke="#000" stroke-width="1.9"/>
<text transform="translate(206 1702.6) scale(1.14 1)" font-size="35.5" word-spacing="2.2">test ep. 1</text>
<rect x="429.35" y="1676.5" width="72.3" height="25.5" fill="#e89c02"/>
<rect x="429.35" y="1676.5" width="72.3" height="25.5" fill="none" stroke="#000" stroke-width="1.9"/>
<text transform="translate(530.65 1702.6) scale(1.14 1)" font-size="35.5" word-spacing="2.2">test ep. 2</text>
<rect x="754" y="1676.5" width="72.3" height="25.5" fill="#009a7f"/>
<rect x="754" y="1676.5" width="72.3" height="25.5" fill="none" stroke="#000" stroke-width="1.9"/>
<text transform="translate(855.3 1702.6) scale(1.14 1)" font-size="35.5" word-spacing="2.2">test ep. 3</text>
<rect x="1078.65" y="1676.5" width="72.3" height="25.5" fill="#59b3e8"/>
<rect x="1078.65" y="1676.5" width="72.3" height="25.5" fill="none" stroke="#000" stroke-width="1.9"/>
<text transform="translate(1179.95 1702.6) scale(1.14 1)" font-size="35.5" word-spacing="2.2">test ep. 4</text>
<rect x="1403.3" y="1676.5" width="72.3" height="25.5" fill="#999999"/>
<clipPath id="c1403_1676"><rect x="1403.3" y="1676.5" width="72.3" height="25.5"/></clipPath><path d="M1395.3 1716.1L1483.6 1614.56M1395.3 1772.68L1483.6 1671.14" stroke="#000" stroke-width="4.1" fill="none" clip-path="url(#c1403_1676)"/>
<rect x="1403.3" y="1676.5" width="72.3" height="25.5" fill="none" stroke="#000" stroke-width="1.9"/>
<text transform="translate(1504.6 1702.6) scale(1.065 1)" font-size="35.5" word-spacing="0">average</text>
</g>
</svg>
<p class="cap">
<span class="ln" id="c10" style="left:0.0px;top:820.9px;word-spacing:-0.471px"><span><span class="lb">(i)</span> The root-mean-square (RMS) <span class="m" style="margin:0 2.4px 0 1.8px"><span class="p">(</span><i style="margin-left:-0.8px;margin-right:0.6px">a</i><span class="p">)</span></span> and mean <span class="m" style="margin:0 2.4px 0 1.8px"><span class="p">(</span><i style="margin-left:-1.5px;margin-right:-1.2px">b</i><span class="p">)</span></span> multi-step prediction errors for Koopman matrices identi<span class="fl">f</span>ied with an SNR of 18</span></span>
<span class="ln" id="c11" style="left:-0.2px;top:861.45px;word-spacing:-0.135px"><span>dB.<span class="ss"></span> The prediction obtained with TEDMD-AS has higher averaged RMS and mean errors than both EDMD-AS and fbEDMD-AS.</span></span>
<span class="ln" id="c12" style="left:-0.9px;top:902px;word-spacing:0.000px"><span>EDMD-AS has a higher mean error, but a lower RMS error than fbEDMD-AS.</span></span>
</p>
<p class="cap">
<span class="ln" id="c20" style="left:0.0px;top:1769.2px;word-spacing:-0.954px"><span><span class="lb">(ii)</span> The root-mean-square (RMS) <span class="m" style="margin:0 2.4px 0 1.8px"><span class="p">(</span><i style="margin-left:-0.8px;margin-right:0.6px">a</i><span class="p">)</span></span> and mean <span class="m" style="margin:0 2.4px 0 1.8px"><span class="p">(</span><i style="margin-left:-1.5px;margin-right:-1.2px">b</i><span class="p">)</span></span> multi-step prediction errors for Koopman matrices identi<span class="fl">f</span>ied with an SNR of 18</span></span>
<span class="ln" id="c21" style="left:-0.2px;top:1809.75px;word-spacing:0.404px"><span>dB.<span class="ss"></span> The prediction obtained with TEDMD-AS has lower averaged RMS and mean errors than both EDMD-AS and fbEDMD-AS.</span></span>
<span class="ln" id="c22" style="left:-0.9px;top:1850.3px;word-spacing:0.000px"><span>Forward-backward EDMD-AS has higher RMS and mean errors than both EDMD-AS and TEDMD-AS.</span></span>
</p>
</div>
</body>
</html>
